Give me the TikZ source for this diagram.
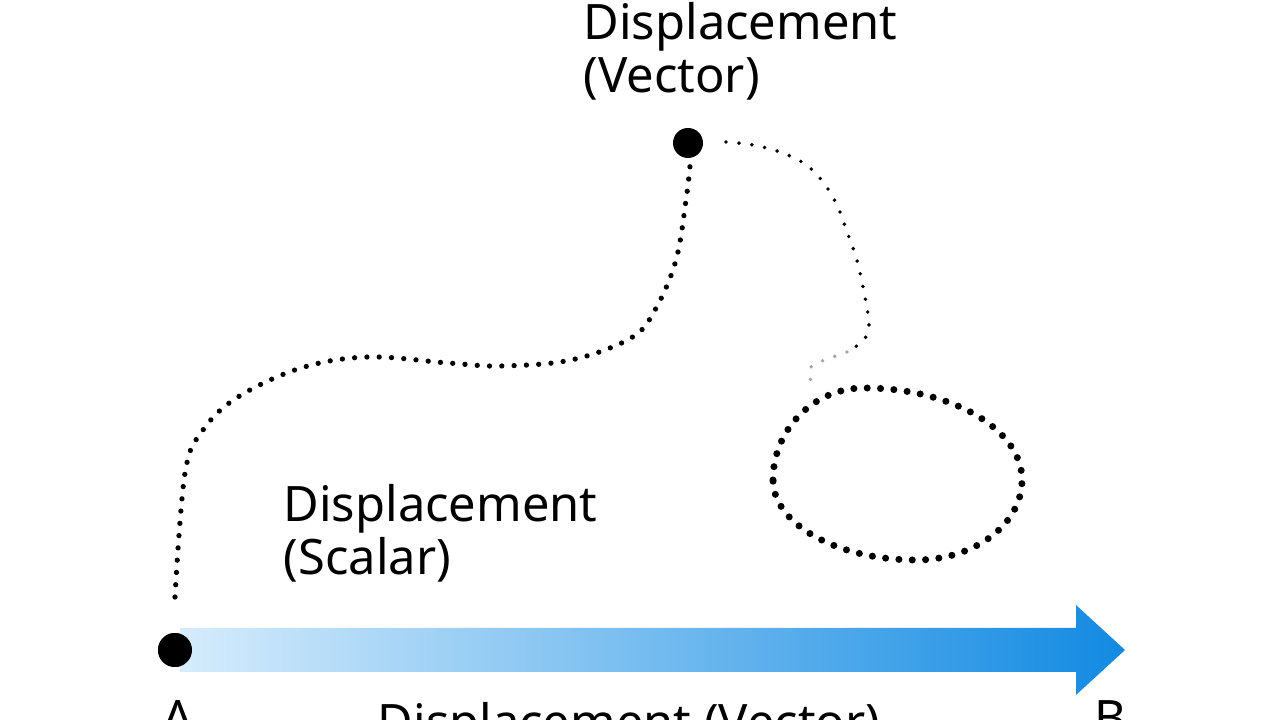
\documentclass[tikz,border=0pt]{standalone}
\usepackage{fontspec}
\setmainfont{Noto Sans}
\usetikzlibrary{positioning, calc}
\definecolor{arrowlight}{RGB}{214,236,252}
\definecolor{arrowdark}{RGB}{18,138,226}

\begin{document}
\begin{tikzpicture}[
    dot/.style={circle, fill=black, inner sep=0pt, minimum size=#1},
    txt/.style={font=\fontsize{13.9}{15.1}\selectfont, inner sep=0pt, align=left},
    trail/.style={line width=1.5pt, line cap=round, dash pattern=on 0pt off 3.5pt},
    fine/.style={line width=1.1pt, line cap=round, dash pattern=on 0pt off 3.7pt},
    loopdots/.style={line width=2pt, line cap=round, dash pattern=on 0pt off 3.8pt}
]
\useasboundingbox (0,0) rectangle (12.8,7.2);

\node[dot=0.34cm] (a) at (1.75,0.70) {};
\node[dot=0.30cm] (p) at (6.88,5.77) {};
\coordinate (b) at (11.25,0.70);

% blue displacement arrow
\shade[left color=arrowlight, right color=arrowdark]
  ($(a)+(0.05,0.22)$) -- (10.76,0.92) -- (10.76,1.15) -- (b)
  -- (10.76,0.25) -- (10.76,0.48) -- ($(a)+(0.05,-0.22)$) -- cycle;
\node[dot=0.34cm] at (a) {};

% path A -> top point
\draw[trail] plot[smooth, tension=0.6] coordinates {
  ($(a)+(0,0.53)$) (1.85,2.47) (2.03,2.90) (2.38,3.23) (3.01,3.52) (3.68,3.63)
  (4.48,3.57) (5.01,3.54) (5.71,3.60) (6.31,3.82) (6.55,4.10) (6.76,4.60)
  (6.86,5.20) ($(p)+(0.02,-0.23)$)};

% path top point -> loop
\draw[fine] plot[smooth, tension=0.6] coordinates {
  ($(p)+(0.38,0.01)$) (7.53,5.75) (7.80,5.68) (8.05,5.56) (8.23,5.38) (8.37,5.15)
  (8.47,4.88) (8.56,4.63) (8.62,4.38) (8.67,4.12) (8.69,3.98) (8.67,3.85)
  (8.58,3.75) (8.47,3.68)};
\draw[fine, black!35] plot[smooth, tension=0.6] coordinates {
  (8.47,3.68) (8.33,3.63) (8.22,3.59) (8.11,3.53) (8.10,3.42) (8.15,3.30)};

% loop
\draw[loopdots] (7.73,2.40) .. controls (7.73,2.91) and (8.14,3.32) .. (8.64,3.32)
  .. controls (9.51,3.32) and (10.22,2.91) .. (10.22,2.40)
  .. controls (10.22,1.96) and (9.75,1.60) .. (9.16,1.60)
  .. controls (8.37,1.60) and (7.73,1.96) .. cycle;

% labels
\node[txt, anchor=base west] (vec) at (5.83,6.27) {Displacement\\(Vector)};
\node[txt, anchor=base west] (sca) at (2.83,1.45) {Displacement\\(Scalar)};
\node[txt, anchor=base] (la) at (1.78,-0.16) {A};
\node[txt, anchor=base] (lb) at (11.10,-0.16) {B};
\node[txt, anchor=base] (disp) at (6.29,-0.20) {Displacement (Vector)};
\end{tikzpicture}
\end{document}
